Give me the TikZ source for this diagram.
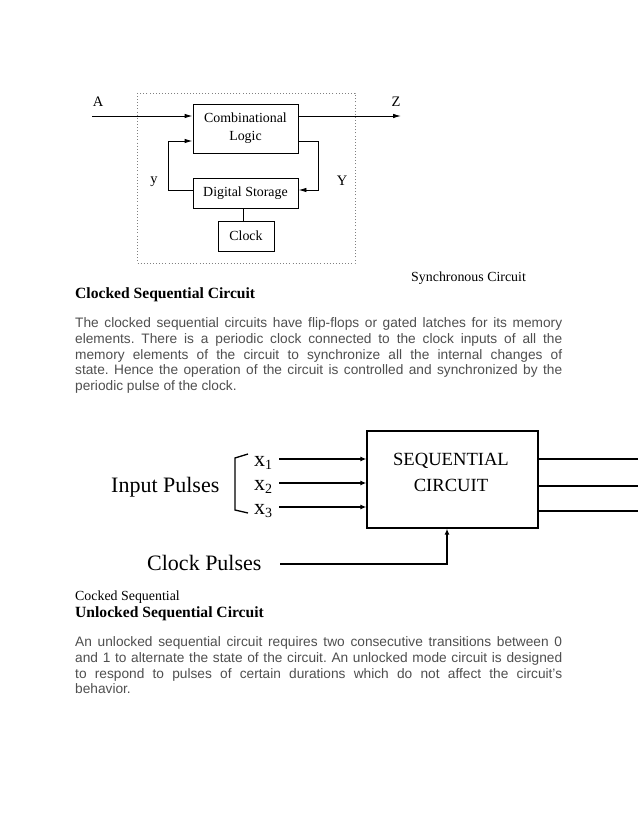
\documentclass[tikz,border=0pt]{standalone}
\usepackage{fontspec}
\setmainfont{Liberation Serif}
\newfontfamily\arial{Liberation Sans}
\usetikzlibrary{arrows.meta}
\frenchspacing
\definecolor{bodygray}{HTML}{4F4F4F}
\tikzset{
  blk/.style={draw, line width=0.9pt, inner sep=0pt, font=\fontsize{13.9}{18}\selectfont, align=center},
  topline/.style={line width=0.9pt},
  toparrow/.style={line width=0.9pt, -{Latex[length=8pt,width=4.5pt]}},
  botline/.style={line width=1.4pt},
  botarrow/.style={line width=1.4pt, -{Latex[length=6pt,width=5pt]}},
  lbl/.style={inner sep=0pt, font=\fontsize{14.5}{16}\selectfont},
  bigtxt/.style={inner sep=0pt, font=\fontsize{22}{26}\selectfont, anchor=base west},
  bodyline/.style={inner sep=0pt, anchor=base west, text=bodygray, font=\arial\fontsize{13.7}{15.8}\selectfont},
  headline/.style={inner sep=0pt, anchor=base west, font=\fontsize{15.6}{18}\selectfont\bfseries},
  caption/.style={inner sep=0pt, anchor=base west, font=\fontsize{13.9}{16}\selectfont}
}
\newcommand{\jline}[1]{\makebox[487pt][s]{#1}}
\newcommand{\xsub}[1]{x\raisebox{-0.35ex}{\fontsize{14}{16}\selectfont #1}}
\begin{document}
\begin{tikzpicture}[x=1pt,y=-1pt]
\useasboundingbox (0,0) rectangle (638,826);
\fill[white] (0,0) rectangle (638,826);

% ---------- Synchronous circuit ----------
\draw[gray, line width=0.9pt, dash pattern=on 0.9pt off 2.2pt] (137,93) rectangle (355,263);
\node[blk, minimum width=105pt, minimum height=49pt] (cl) at (245.5,128.5) {Combinational\\Logic};
\node[blk, minimum width=105pt, minimum height=30pt] (ds) at (245.5,193) {Digital Storage};
\node[blk, minimum width=56pt, minimum height=30pt] (ck) at (246,236) {Clock};
\node[lbl] (A) at (98,102) {A};
\node[lbl] (Z) at (396,102) {Z};
\node[lbl] (ylow) at (154,182) {y};
\node[lbl] (yup) at (342,181) {Y};
\coordinate (ain) at (92,116);
\coordinate (zout) at (401,116);
\coordinate (lcorner) at (168,190);
\coordinate (rcorner) at (318,141);
\draw[toparrow] (ain) -- (ain -| cl.west);
\draw[toparrow] (cl.east |- zout) -- (zout);
\draw[toparrow] (ds.west |- lcorner) -- (lcorner) |- (cl.west |- rcorner);
\draw[toparrow] (cl.east |- rcorner) -- (rcorner) |- (ds.east |- lcorner);
\draw[topline] (ck.north -| 243,0) -- (ds.south -| 243,0);

\node[caption] (cap1) at (411,281) {Synchronous Circuit};

% ---------- Clocked sequential text ----------
\node[headline] (h1) at (75,298) {Clocked Sequential Circuit};
\node[bodyline] (p11) at (75,327.5) {\jline{The clocked sequential circuits have flip-flops or gated latches for its memory}};
\node[bodyline] (p12) at (75,343.3) {\jline{elements. There is a periodic clock connected to the clock inputs of all the}};
\node[bodyline] (p13) at (75,359.1) {\jline{memory elements of the circuit to synchronize all the internal changes of}};
\node[bodyline] (p14) at (75,374.9) {\jline{state. Hence the operation of the circuit is controlled and synchronized by the}};
\node[bodyline] (p15) at (75,390.7) {periodic pulse of the clock.};

% ---------- Clocked sequential diagram ----------
\node[draw, line width=1.4pt, minimum width=171pt, minimum height=97pt, inner sep=0pt] (seq) at (452.5,479.5) {};
\node[inner sep=0pt, font=\fontsize{18.6}{26}\selectfont, align=center] (seqtxt) at (451,472) {SEQUENTIAL\\CIRCUIT};
\node[bigtxt] (inp) at (111,492) {Input Pulses};
\node[bigtxt] (clp) at (147,570) {Clock Pulses};
\node[bigtxt] (x1) at (254,466) {\xsub{1}};
\node[bigtxt] (x2) at (254,490) {\xsub{2}};
\node[bigtxt] (x3) at (254,514) {\xsub{3}};
\coordinate (bt) at (248,454);
\coordinate (bb) at (248,513);
\draw[line width=1.3pt] (bt) -- (235,458) -- (235,510) -- (bb);
\coordinate (s1) at (279,459);
\coordinate (s2) at (279,483);
\coordinate (s3) at (279,507);
\draw[botarrow] (s1) -- (s1 -| seq.west);
\draw[botarrow] (s2) -- (s2 -| seq.west);
\draw[botarrow] (s3) -- (s3 -| seq.west);
\coordinate (o1) at (638,459);
\coordinate (o2) at (638,486);
\coordinate (o3) at (638,511);
\draw[botline] (seq.east |- o1) -- (o1);
\draw[botline] (seq.east |- o2) -- (o2);
\draw[botline] (seq.east |- o3) -- (o3);
\coordinate (cs) at (280,564);
\coordinate (cc) at (447,564);
\draw[botarrow] (cs) -- (cc) -- (cc |- seq.south);

% ---------- Unlocked sequential text ----------
\node[caption] (cap2) at (75,600) {Cocked Sequential};
\node[headline] (h2) at (75,617) {Unlocked Sequential Circuit};
\node[bodyline] (p21) at (75,646.5) {\jline{An unlocked sequential circuit requires two consecutive transitions between 0}};
\node[bodyline] (p22) at (75,662.3) {\jline{and 1 to alternate the state of the circuit. An unlocked mode circuit is designed}};
\node[bodyline] (p23) at (75,678.1) {\jline{to respond to pulses of certain durations which do not affect the circuit’s}};
\node[bodyline] (p24) at (75,693.9) {behavior.};
\end{tikzpicture}
\end{document}
